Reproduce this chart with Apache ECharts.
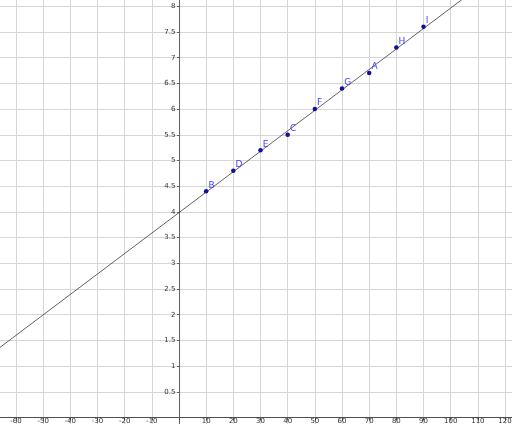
<!DOCTYPE html>
<html>
<head>
    <meta charset="utf-8">
    <title>Points and fit line</title>
    <script type="text/javascript" src="https://cdn.jsdelivr.net/npm/echarts@6/dist/echarts.min.js"></script>
    <style>
        html, body { margin: 0; padding: 0; background: #fff; }
    </style>
</head>
<body>
<div id="chart" style="width:512px;height:424px;"></div>

<script type="text/javascript">
    // points
    var pointNames = ['A', 'B', 'C', 'D', 'E', 'F', 'G', 'H', 'I'];
    var pointX = [70, 10, 40, 20, 30, 50, 60, 80, 90];
    var pointY = [6.7, 4.4, 5.5, 4.8, 5.2, 6.0, 6.4, 7.2, 7.6];

    // the straight line, two far ends
    var lineX = [-70, 130];
    var lineY = [1.2, 9.16];

    // tick labels shown along the two axes
    var xTickLabels = [-60, -50, -40, -30, -20, -10, 10, 20, 30, 40, 50, 60, 70, 80, 90, 100, 110, 120];
    var yTickLabels = [0.5, 1, 1.5, 2, 2.5, 3, 3.5, 4, 4.5, 5, 5.5, 6, 6.5, 7, 7.5, 8];

    // axes
    var xMin = -70, xMax = 130, xStep = 10;
    var yMin = -0.5, yMax = 8.5, yStep = 0.5;

    var pts = [];
    for (var i = 0; i < pointNames.length; i++) {
        pts.push({ name: pointNames[i], value: [pointX[i], pointY[i]] });
    }
    var linePts = [];
    for (var j = 0; j < lineX.length; j++) {
        linePts.push([lineX[j], lineY[j]]);
    }
    // axis labels sit on the axes themselves (x axis at y=0, y axis at x=0)
    var xLabelPts = xTickLabels.map(function (v) { return { name: String(v), value: [v, 0] }; });
    var yLabelPts = yTickLabels.map(function (v) { return { name: String(v), value: [0, v] }; });

    var myChart = echarts.init(document.getElementById('chart'));

    // grid runs past the canvas edges so the visible window is about x -66..123, y -0.1..8.1
    var option = {
        backgroundColor: '#ffffff',
        animation: false,
        grid: {
            left: -11.2,
            right: -20.2,
            top: -19.4,
            bottom: -19.2,
            containLabel: false,
            outerBoundsMode: 'none'
        },
        xAxis: {
            type: 'value',
            min: xMin,
            max: xMax,
            interval: xStep,
            axisLine: { onZero: true, lineStyle: { color: '#505050', width: 1 } },
            axisTick: { show: true, length: 3, lineStyle: { color: '#505050' } },
            axisLabel: { show: false },
            splitLine: { show: true, lineStyle: { color: '#d6d6d6', width: 1 } }
        },
        yAxis: {
            type: 'value',
            min: yMin,
            max: yMax,
            interval: yStep,
            axisLine: { onZero: true, lineStyle: { color: '#606060', width: 1 } },
            axisTick: { show: true, length: 2, lineStyle: { color: '#606060' } },
            axisLabel: { show: false },
            splitLine: { show: true, lineStyle: { color: '#d6d6d6', width: 1 } }
        },
        series: [
            {
                name: 'line',
                type: 'line',
                data: linePts,
                symbol: 'none',
                lineStyle: { color: '#3a3a3a', width: 0.8 },
                silent: true,
                z: 3
            },
            {
                name: 'points',
                type: 'scatter',
                data: pts,
                symbolSize: 4.5,
                itemStyle: { color: '#10109a', opacity: 1 },
                label: {
                    show: true,
                    position: 'right',
                    distance: 0,
                    offset: [0, -6],
                    formatter: '{b}',
                    fontSize: 9,
                    fontFamily: 'DejaVu Sans',
                    color: '#4040ff'
                },
                z: 4
            },
            {
                name: 'xTicks',
                type: 'scatter',
                data: xLabelPts,
                symbolSize: 1,
                itemStyle: { color: 'rgba(0,0,0,0)' },
                silent: true,
                label: {
                    show: true,
                    position: 'bottom',
                    distance: 0,
                    formatter: '{b}',
                    fontSize: 7,
                    fontFamily: 'DejaVu Sans',
                    color: '#333',
                    opacity: 1
                },
                z: 2
            },
            {
                name: 'yTicks',
                type: 'scatter',
                data: yLabelPts,
                symbolSize: 1,
                itemStyle: { color: 'rgba(0,0,0,0)' },
                silent: true,
                label: {
                    show: true,
                    position: 'left',
                    distance: 3,
                    formatter: '{b}',
                    fontSize: 7,
                    fontFamily: 'DejaVu Sans',
                    color: '#333',
                    opacity: 1
                },
                z: 2
            }
        ]
    };
    myChart.setOption(option);
</script>
</body>
</html>
